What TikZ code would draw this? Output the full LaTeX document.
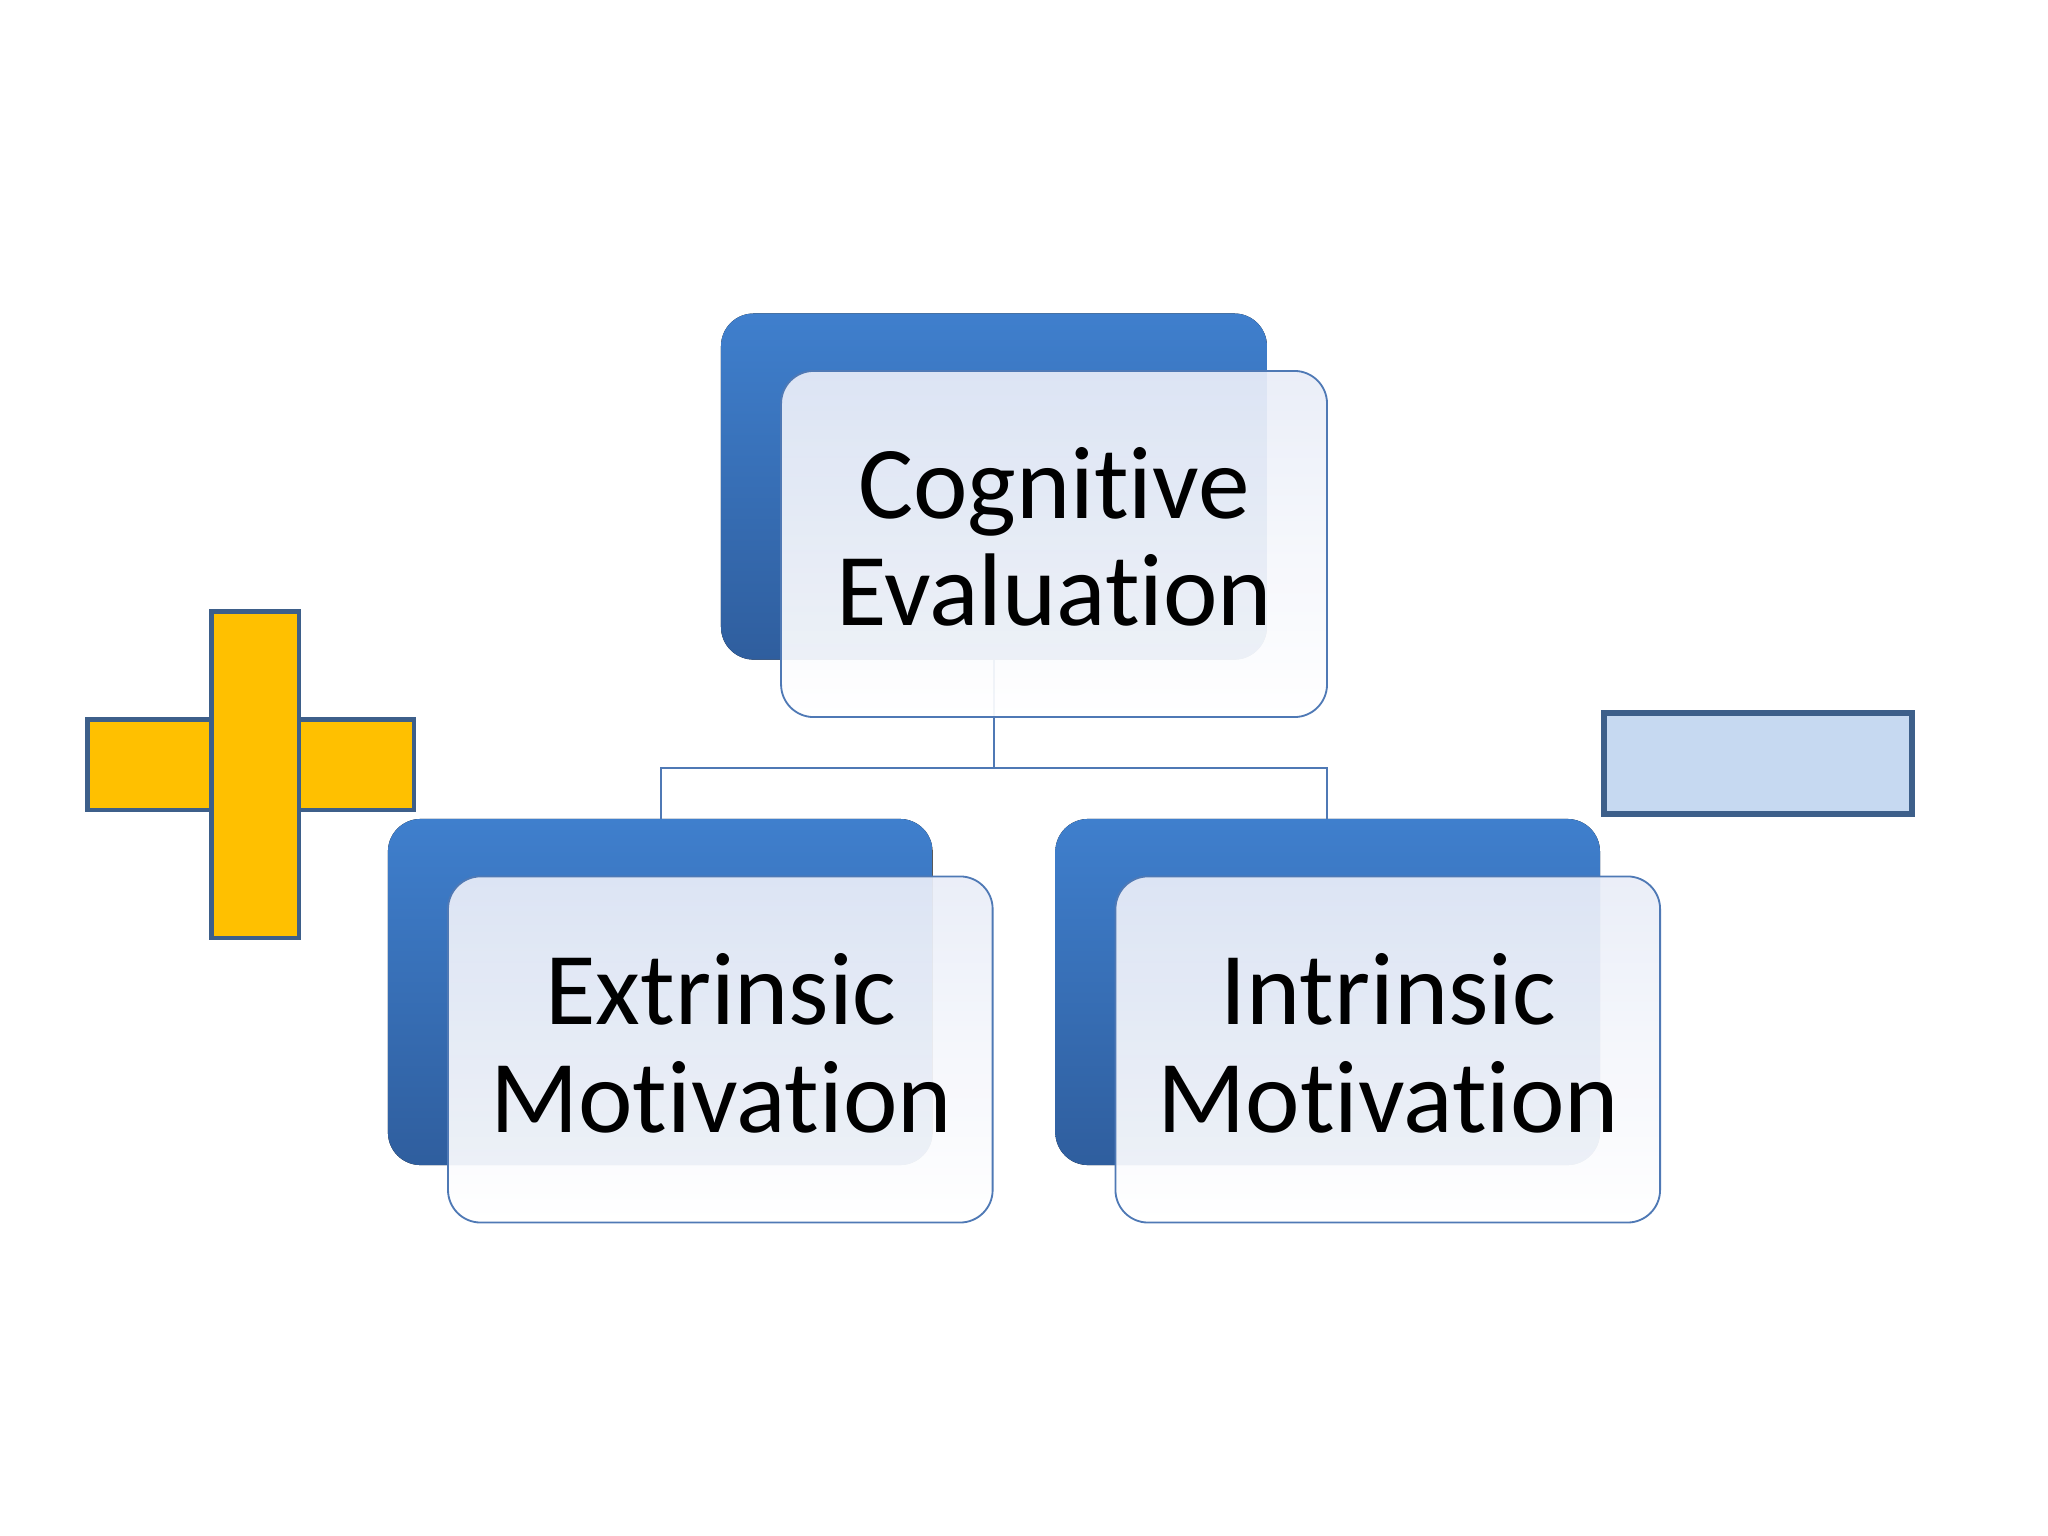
\documentclass[tikz,border=0pt]{standalone}
\usepackage{fontspec}
\setmainfont{Carlito}[RawFeature={-liga}]
\begin{document}
\begin{tikzpicture}[x=0.02cm,y=-0.02cm,
 dark/.style={rounded corners=0.5cm,top color=blue1,bottom color=blue2,draw=none},
 light/.style={rounded corners=0.5cm,top color=lightf,bottom color=white,fill opacity=0.93,draw=edge,line width=0.8pt},
 conn/.style={draw=edge,line width=0.8pt},
 lbl/.style={align=center,font=\fontsize{45}{47}\selectfont,text=black}]
\definecolor{blue1}{HTML}{3F7FCD}
\definecolor{blue2}{HTML}{2F5E9E}
\definecolor{lightf}{HTML}{E9EDF8}
\definecolor{edge}{HTML}{4F79B5}
\definecolor{gold}{HTML}{FFC000}
\definecolor{bord}{HTML}{3D5F8A}
\definecolor{pale}{RGB}{198,217,241}
\useasboundingbox (0,0) rectangle (1568,1176);
\coordinate (jt) at (761,588);
\coordinate (jl) at (506,588);
\coordinate (jr) at (1016,588);
\fill[dark] (552,240) rectangle (970,505);
\fill[dark] (297,627) rectangle (714,892);
\fill[dark] (808,627) rectangle (1225,892);
\draw[conn] (761,505) -- (jt) -- (jl) -- (506,627);
\draw[conn] (jt) -- (jr) -- (1016,627);
\draw[light] (598,284) rectangle (1016,549);
\draw[light] (343,671) rectangle (760,936);
\draw[light] (854,671) rectangle (1271,936);
\node[lbl] (c) at (807,411) {Cognitive\\Evaluation};
\node[lbl] (e) at (552,799) {Extrinsic\\Motivation};
\node[lbl] (i) at (1063,799) {Intrinsic\\Motivation};
\draw[fill=gold,draw=bord,line width=2pt] (67,551) rectangle (317,620);
\draw[fill=gold,draw=bord,line width=2pt] (162,468) rectangle (229,718);
\draw[fill=pale,draw=bord,line width=2.5pt] (1228,546) rectangle (1464,623);
\end{tikzpicture}
\end{document}
